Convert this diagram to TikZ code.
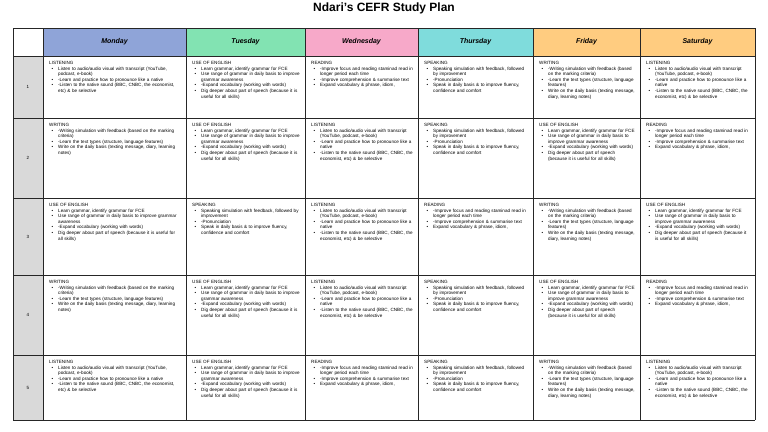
\documentclass[tikz,border=0pt]{standalone}
\usepackage{fontspec}
\setmainfont{Liberation Sans}
\usepackage{enumitem}
\definecolor{cMon}{HTML}{8FA4D8}
\definecolor{cTue}{HTML}{82E3B2}
\definecolor{cWed}{HTML}{F7A9C9}
\definecolor{cThu}{HTML}{7FDCDC}
\definecolor{cFri}{HTML}{FFCC80}
\definecolor{cGray}{HTML}{D9D9D9}
\newcommand{\bl}[2]{{#1}\begin{itemize}[leftmargin=9pt,itemsep=0pt,topsep=0pt,parsep=0pt,partopsep=0pt,label=\textbullet]#2\end{itemize}}
\newcommand{\LI}{\bl{LISTENING}{\item Listen to audio/audio visual with transcript (YouTube, podcast, e-book)\item -Learn and practice how to pronounce like a native\item -Listen to the native sound (BBC, CNBC, the economist, etc) \& be selective}}
\newcommand{\UE}{\bl{USE OF ENGLISH}{\item Learn grammar, identify grammar for FCE\item Use range of grammar in daily basis to improve grammar awareness\item -Expand vocabulary (working with words)\item Dig deeper about part of speech (because it is useful for all skills)}}
\newcommand{\RE}{\bl{READING}{\item -Improve focus and reading staminad read in longer period each time\item -Improve comprehension \& summarise text\item Expand vocabulary \& phrase, idiom,}}
\newcommand{\SP}{\bl{SPEAKING}{\item Speaking simulation with feedback, followed by improvement\item -Pronunciation\item Speak in daily basis \& to improve fluency, confidence and comfort}}
\newcommand{\WR}{\bl{WRITING}{\item -Writing simulation with feedback (based on the marking criteria)\item -Learn the text types (structure, language features)\item Write on the daily basis (texting message, diary, learning notes)}}
\begin{document}
\begin{tikzpicture}[x=1pt,y=-1pt,
  cell/.style={anchor=north west,inner sep=0pt,font=\fontsize{4.6}{5.6}\selectfont,align=left},
  day/.style={font=\fontsize{7}{8}\selectfont\itshape\bfseries},
  num/.style={font=\fontsize{4.5}{5}\selectfont},
  grid/.style={line width=0.9pt,black!85}]
\useasboundingbox (0,0) rectangle (768,431);
\fill[white] (0,0) rectangle (768,431);
\node[font=\fontsize{12}{14}\selectfont\bfseries] (title) at (384,8) {Ndari's CEFR Study Plan};
\def\xs{13,43,186,305,418,533,640,755}
\def\ys{28,56,118,198,275,355,420}
\fill[cMon] (43,28) rectangle (186,56);
\fill[cTue] (186,28) rectangle (305,56);
\fill[cWed] (305,28) rectangle (418,56);
\fill[cThu] (418,28) rectangle (533,56);
\fill[cFri] (533,28) rectangle (640,56);
\fill[cFri] (640,28) rectangle (755,56);
\fill[cGray] (13,56) rectangle (43,420);
\foreach \x in \xs {\draw[grid] (\x,28) -- (\x,420);}
\foreach \y in \ys {\draw[grid] (13,\y) -- (755,\y);}
\node[day] (hMon) at (114.5,42) {Monday};
\node[day] (hTue) at (245.5,42) {Tuesday};
\node[day] (hWed) at (361.5,42) {Wednesday};
\node[day] (hThu) at (475.5,42) {Thursday};
\node[day] (hFri) at (586.5,42) {Friday};
\node[day] (hSat) at (697.5,42) {Saturday};
\node[num] (n1) at (28,87) {1};
\node[num] (n2) at (28,158) {2};
\node[num] (n3) at (28,236.5) {3};
\node[num] (n4) at (28,315) {4};
\node[num] (n5) at (28,387.5) {5};
\foreach \r/\y/\a/\b/\c/\d/\e/\f in {
  1/61/\LI/\UE/\RE/\SP/\WR/\LI,
  2/123/\WR/\UE/\LI/\SP/\UE/\RE,
  3/203/\UE/\SP/\LI/\RE/\WR/\UE,
  4/280/\WR/\UE/\LI/\SP/\UE/\RE,
  5/360/\LI/\UE/\RE/\SP/\WR/\LI}{
  \node[cell,text width=130pt] (c\r a) at (49,\y) {\a};
  \node[cell,text width=108pt] (c\r b) at (192,\y) {\b};
  \node[cell,text width=102pt] (c\r c) at (311,\y) {\c};
  \node[cell,text width=104pt] (c\r d) at (424,\y) {\d};
  \node[cell,text width=96pt] (c\r e) at (539,\y) {\e};
  \node[cell,text width=104pt] (c\r f) at (646,\y) {\f};
}
\end{tikzpicture}
\end{document}
